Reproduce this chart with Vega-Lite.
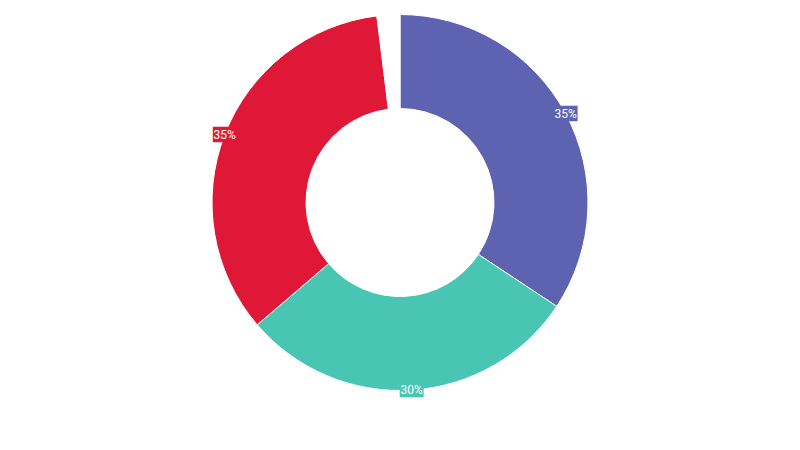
{
  "$schema": "https://vega.github.io/schema/vega-lite/v6.json",
  "width": 800,
  "height": 405,
  "padding": 0,
  "autosize": {"type": "pad"},
  "background": "white",
  "view": {"stroke": null},
  "data": {
    "values": [
      {"slice": "A", "value": 35, "order": 1, "label": "35%"},
      {"slice": "B", "value": 30, "order": 2, "label": "30%"},
      {"slice": "C", "value": 35, "order": 3, "label": "35%"},
      {"slice": "gap", "value": 2, "order": 4, "label": ""}
    ]
  },
  "encoding": {
    "theta": {"field": "value", "type": "quantitative", "stack": true},
    "order": {"field": "order", "type": "quantitative"}
  },
  "layer": [
    {
      "mark": {"type": "arc", "outerRadius": 188, "innerRadius": 94, "stroke": "white", "strokeWidth": 1},
      "encoding": {
        "color": {
          "field": "slice",
          "type": "nominal",
          "scale": {"domain": ["A", "B", "C", "gap"], "range": ["#5d63b1", "#49c5b4", "#e01837", "#ffffff"]},
          "legend": null
        }
      }
    },
    {
      "mark": {"type": "text", "radius": 188, "font": "DejaVu Sans Mono", "fontSize": 13, "baseline": "middle", "align": "center"},
      "encoding": {
        "text": {"condition": {"test": "datum.label == ''", "value": ""}, "value": "███"},
        "color": {
          "field": "slice",
          "type": "nominal",
          "scale": {"domain": ["A", "B", "C", "gap"], "range": ["#5d63b1", "#49c5b4", "#e01837", "#ffffff"]},
          "legend": null
        }
      }
    },
    {
      "mark": {"type": "text", "radius": 188, "font": "Roboto", "fontSize": 12, "color": "white", "baseline": "middle", "align": "center"},
      "encoding": {
        "text": {"field": "label", "type": "nominal"}
      }
    }
  ]
}
